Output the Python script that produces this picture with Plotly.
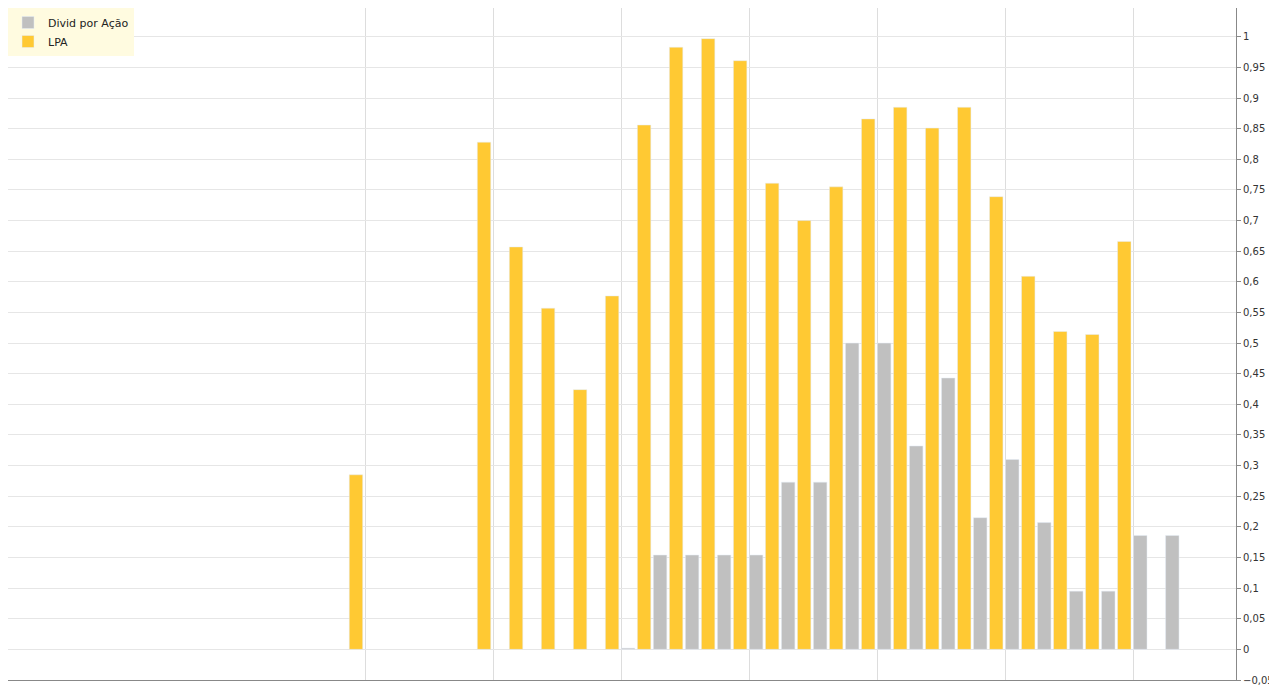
import plotly.graph_objects as go

# quarters, 4T 2011 .. 2T 2018
quarters = ["4T", "1T", "2T", "3T", "4T", "1T", "2T", "3T", "4T", "1T", "2T", "3T", "4T",
            "1T", "2T", "3T", "4T", "1T", "2T", "3T", "4T", "1T", "2T", "3T", "4T", "1T", "2T"]
years = ["2012", "2013", "2014", "2015", "2016", "2017", "2018"]

lpa = [0.285, None, None, None, 0.828, 0.657, 0.557, 0.424, 0.577, 0.856, 0.983, 0.997, 0.961,
       0.761, 0.700, 0.755, 0.866, 0.885, 0.851, 0.885, 0.739, 0.609, 0.519, 0.514, 0.666, None, None]
divid = [None, None, None, None, None, None, None, None, None, 0.002, 0.154, 0.154, 0.154,
         0.154, 0.273, 0.273, 0.5, 0.5, 0.332, 0.443, 0.215, 0.31, 0.207, 0.095, 0.095, 0.186, 0.186]

idx = list(range(len(quarters)))

fig = go.Figure()
fig.add_trace(go.Bar(x=idx, y=divid, name="Divid por Ação", marker_color="#c0c0c0", offset=-0.5, width=0.42))
fig.add_trace(go.Bar(x=idx, y=lpa, name="LPA", marker_color="#ffc933", offset=0.0, width=0.42))

# year boundaries at the start of each 1T
bounds = [i - 0.5 for i, q in enumerate(quarters) if q == "1T"]

for i, q in enumerate(quarters):
    fig.add_annotation(x=i, y=-0.057, xref="x", yref="y", text=q, showarrow=False,
                       font=dict(size=9, color="#999999"))
for b, yr in zip(bounds, years):
    fig.add_annotation(x=b + 2, y=-0.083, xref="x", yref="y", text=yr, showarrow=False,
                       font=dict(size=11, color="#444444"))

fig.add_annotation(x=1, y=-0.075, xref="paper", yref="y", xanchor="right", text="trimestre ▾",
                   showarrow=False, font=dict(size=11, color="#333333"))

fig.update_layout(
    width=1277, height=700,
    margin=dict(l=0, r=49, t=0, b=28),
    plot_bgcolor="white", paper_bgcolor="white",
    barmode="overlay",
    separators=", ",
    font=dict(family="DejaVu Sans", size=10, color="#333333"),
    legend=dict(x=0, y=1, xanchor="left", yanchor="top", bgcolor="#fffbe0",
                font=dict(size=11, color="#222222"), tracegroupgap=0),
    xaxis=dict(range=[-10.66, 27.7], tickvals=bounds, ticktext=[""] * len(bounds),
               showgrid=True, gridcolor="#dddddd", zeroline=False, showline=True,
               linecolor="#888888", ticks=""),
    yaxis=dict(range=[-0.05, 1.047], side="right", dtick=0.05, tickformat=".2~f",
               showgrid=True, gridcolor="#e6e6e6", zeroline=False,
               showline=True, linecolor="#888888", ticks="outside", ticklen=4,
               tickcolor="#888888", tickfont=dict(size=10)),
)

fig.write_html("out.html")
